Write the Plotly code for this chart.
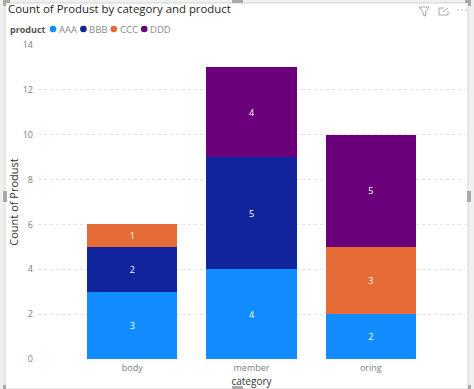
import plotly.graph_objects as go

categories = ["body", "member", "oring"]
products = ["AAA", "BBB", "CCC", "DDD"]
colors = ["#118DFF", "#12239E", "#E66C37", "#6B007B"]
AAA = [3, 4, 2]
BBB = [2, 5, None]
CCC = [1, None, 3]
DDD = [None, 4, 5]
series = [AAA, BBB, CCC, DDD]
y_ticks = [0, 2, 4, 6, 8, 10, 12, 14]
FONT = "Open Sans"
W, H = 474, 389
L, R, T, B = 38, 465, 45, 359

fig = go.Figure()
for name, vals, col in zip(products, series, colors):
    fig.add_trace(go.Bar(
        x=categories, y=vals, name=name, marker=dict(color=col, line=dict(width=0)),
        text=[str(v) if v is not None else "" for v in vals],
        textposition="inside", insidetextanchor="middle", textangle=0,
        textfont=dict(color="white", size=9, family=FONT), showlegend=False,
        hoverinfo="skip"))

def px(x): return (x - L) / (R - L)
def py(y): return (B - y) / (B - T)

shapes = []
ann = []
# visual frame
shapes.append(dict(type="rect", xref="paper", yref="paper", x0=px(5), x1=px(468), y0=py(389), y1=py(3),
                   line=dict(color="#D4D4D4", width=1), fillcolor="white", layer="below"))
# resize handles
for (x0, y0, x1, y1) in [(3, 191, 7, 202), (467, 191, 471, 202), (232, 0, 243, 3), (232, 386, 243, 389),
                         (3, 0, 10, 3), (3, 0, 6, 6), (465, 0, 471, 3), (468, 0, 471, 6),
                         (3, 385, 6, 389), (468, 385, 471, 389)]:
    shapes.append(dict(type="rect", xref="paper", yref="paper", x0=px(x0), x1=px(x1), y0=py(y1), y1=py(y0),
                       fillcolor="#A9A9A9", line=dict(width=0)))
# legend
ann.append(dict(text="<b>product</b>", x=px(8), y=py(29), xref="paper", yref="paper", xanchor="left", yanchor="middle",
                showarrow=False, font=dict(size=9, color="#555555", family=FONT)))
for i, (name, col) in enumerate(zip(products, colors)):
    cx = 53 + i * 30.4
    shapes.append(dict(type="circle", xref="paper", yref="paper", x0=px(cx - 3.3), x1=px(cx + 3.3),
                       y0=py(29 + 3.3), y1=py(29 - 3.3), fillcolor=col, line=dict(width=0)))
    ann.append(dict(text=name, x=px(cx + 4), y=py(29), xref="paper", yref="paper", xanchor="left", yanchor="middle",
                    showarrow=False, font=dict(size=9.5, color="#8A8A8A", family=FONT)))
# header icons
ic = "#A8A8A8"
shapes.append(dict(type="path", xref="paper", yref="paper",
    path=f"M {px(419)} {py(7)} L {px(429)} {py(7)} L {px(425.5)} {py(12)} L {px(425.5)} {py(16)} L {px(423)} {py(15)} L {px(423)} {py(12)} Z",
    line=dict(color=ic, width=1)))
shapes.append(dict(type="path", xref="paper", yref="paper",
    path=f"M {px(444)} {py(8)} L {px(439)} {py(8)} L {px(439)} {py(15)} L {px(448)} {py(15)} L {px(448)} {py(11)} M {px(443)} {py(12)} L {px(448)} {py(8)}",
    line=dict(color=ic, width=1)))
for dx in (458, 462, 466):
    shapes.append(dict(type="circle", xref="paper", yref="paper", x0=px(dx - .7), x1=px(dx + .7),
                       y0=py(10.7), y1=py(9.3), fillcolor=ic, line=dict(width=0)))

fig.update_layout(
    width=W, height=H, barmode="stack", bargap=0.245,
    paper_bgcolor="#F0F0F0", plot_bgcolor="rgba(0,0,0,0)",
    margin=dict(l=L, r=W - R, t=T, b=H - B, autoexpand=False),
    title=dict(text="Count of Produst by category and product", x=8 / W, y=1 - 9 / H, xanchor="left", yanchor="middle",
               font=dict(size=11.4, color="#252423", family=FONT)),
    xaxis=dict(type="category", range=[-0.79, 2.79], showgrid=False, zeroline=False, showline=False, ticks="",
               ticklabelstandoff=2,
               tickfont=dict(size=9, color="#808080", family=FONT),
               title=dict(text="category", standoff=1, font=dict(size=10, color="#333333", family=FONT))),
    yaxis=dict(range=[0, 14], tickvals=y_ticks, showgrid=True, griddash="dot", gridcolor="#E2E2E2", gridwidth=1,
               zeroline=False, showline=False, ticks="", ticklabelstandoff=4,
               tickfont=dict(size=9, color="#808080", family=FONT),
               title=dict(text="Count of Produst", standoff=1, font=dict(size=11, color="#333333", family=FONT))),
    shapes=shapes, annotations=ann, showlegend=False,
)
fig.write_html("out.html", config=dict(displayModeBar=False),
               post_script="document.body.style.margin='0';document.documentElement.style.overflow='hidden';")
